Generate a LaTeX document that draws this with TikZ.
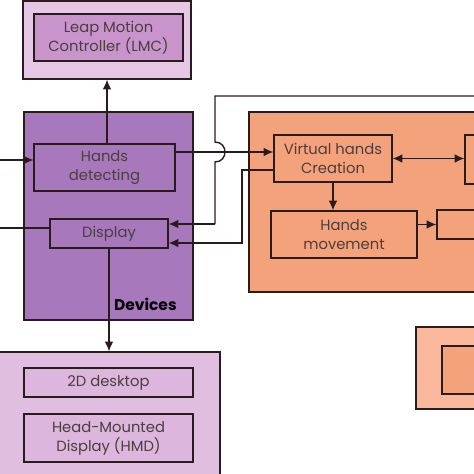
\documentclass[tikz,border=0pt]{standalone}
\usepackage{fontspec}
\setmainfont{Poppins}
\usepackage{tikz}
\usetikzlibrary{arrows.meta}
\definecolor{devpurple}{HTML}{A878BC}
\definecolor{lmclight}{HTML}{E6C8E6}
\definecolor{lmcmid}{HTML}{C994CC}
\definecolor{outlight}{HTML}{E0BEE0}
\definecolor{outbox}{HTML}{DDB6DD}
\definecolor{vrorange}{HTML}{F4A27C}
\definecolor{palorange}{HTML}{F9B79C}
\definecolor{edge}{HTML}{2A1C1C}

\tikzset{
  blk/.style={draw=edge,line width=0.8pt,inner sep=0pt,align=center,
              text=edge!85},
  wire/.style={draw=edge,line width=0.8pt},
  tip/.style={wire,-{Latex[length=5.5pt,width=5pt]}},
}

\begin{document}
\begin{tikzpicture}[x=0.02cm,y=-0.02cm,font=\fontsize{8.4}{10.8}\selectfont]
  \useasboundingbox (0,0) rectangle (474,474);
  \clip (0,0) rectangle (474,474);

  % left column: devices
  \node[blk,fill=lmclight,minimum width=168*0.02cm,minimum height=78*0.02cm]
    (lmcbox) at (107,40) {};
  \node[blk,fill=lmcmid,minimum width=149*0.02cm,minimum height=47*0.02cm]
    (lmc) at (108.5,37.5) {Leap Motion\\Controller (LMC)};
  \node[blk,fill=devpurple,minimum width=169*0.02cm,minimum height=208*0.02cm]
    (devices) at (108.5,216) {};
  \node[blk,fill=devpurple,minimum width=141*0.02cm,minimum height=47*0.02cm]
    (detect) at (104.5,167.5) {Hands\\detecting};
  \node[blk,fill=devpurple,minimum width=118*0.02cm,minimum height=29*0.02cm]
    (display) at (109,233.5) {Display};
  \node[anchor=south east,inner sep=0pt,font=\fontsize{8.8}{10}\selectfont\bfseries]
    (devlabel) at (177,311) {Devices};

  % output screens
  \node[blk,fill=outlight,minimum width=232*0.02cm,minimum height=140*0.02cm]
    (screens) at (104,422) {};
  \node[blk,fill=outbox,minimum width=169*0.02cm,minimum height=29*0.02cm]
    (desk) at (108.5,382.5) {2D desktop};
  \node[blk,fill=outbox,minimum width=169*0.02cm,minimum height=48*0.02cm]
    (hmd) at (108.5,438) {Head-Mounted\\Display (HMD)};

  % virtual side
  \node[blk,fill=vrorange,minimum width=250*0.02cm,minimum height=180*0.02cm]
    (vr) at (374,202) {};
  \node[blk,fill=vrorange,minimum width=118*0.02cm,minimum height=47*0.02cm]
    (vhc) at (333,158.5) {Virtual hands\\Creation};
  \node[blk,fill=vrorange,minimum width=60*0.02cm,minimum height=49*0.02cm]
    (rightA) at (495,159.5) {};
  \node[blk,fill=vrorange,minimum width=146*0.02cm,minimum height=47*0.02cm]
    (hmove) at (344,234.5) {Hands\\movement};
  \node[blk,fill=vrorange,minimum width=90*0.02cm,minimum height=29*0.02cm]
    (rightB) at (482,224.5) {};
  \node[blk,fill=palorange,minimum width=120*0.02cm,minimum height=82*0.02cm]
    (legend) at (476,368) {};
  \node[blk,fill=vrorange,minimum width=80*0.02cm,minimum height=48*0.02cm]
    (legendin) at (482,370) {};

  % connectors
  \coordinate (inHand) at (0,160);
  \coordinate (inDisp) at (0,228);
  \coordinate (jumpY) at (0,152);
  \coordinate (topR) at (474,96);
  \coordinate (topL) at (215,96);
  \coordinate (loopA) at (215,224);
  \coordinate (backA) at (242,170);
  \coordinate (backB) at (242,243);

  \draw[tip] (lmcbox.south |- detect.north) -- (lmcbox.south);
  \draw[tip] (inHand) -- (inHand -| detect.west);
  \draw[wire] (inDisp) -- (inDisp -| display.west);
  \draw[tip] (jumpY -| detect.east) -- (jumpY -| vhc.west);
  \draw[wire] (topR) -- (topL) -- (215,142)
    .. controls (228.3,142) and (228.3,162) .. (215,162) -- (loopA);
  \draw[tip] (loopA) -- (loopA -| display.east);
  \draw[tip] (backA -| vhc.west) -- (backA) -- (backB) -- (backB -| display.east);
  \draw[wire,{Latex[length=5.5pt,width=5pt]}-{Latex[length=5.5pt,width=5pt]}]
    (vhc.east) -- (vhc.east -| rightA.west);
  \draw[tip] (vhc.south) -- (vhc.south |- hmove.north);
  \draw[tip] (hmove.east |- rightB.west) -- (rightB.west);
  \draw[tip] (display.south) -- (display.south |- screens.north);
\end{tikzpicture}
\end{document}
